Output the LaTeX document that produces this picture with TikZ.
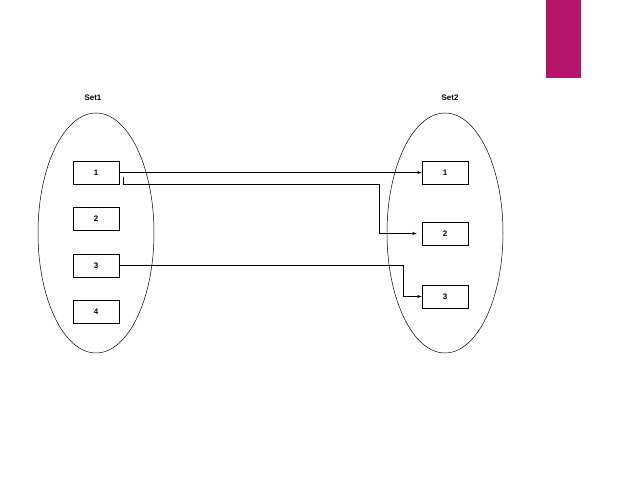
\documentclass[tikz,border=0pt]{standalone}
\usepackage{fontspec}
\setmainfont{Liberation Sans}
\begin{document}
\begin{tikzpicture}[x=1pt,y=-1pt,
 box/.style={draw,minimum width=46pt,minimum height=23pt,inner sep=0pt,font=\bfseries\fontsize{8}{9}\selectfont},
 lbl/.style={font=\bfseries\fontsize{8}{9}\selectfont},
 conn/.style={-latex,line width=0.5pt}]
\useasboundingbox (0,0) rectangle (638,478);
\fill[fill={rgb,255:red,181;green,22;blue,107}] (546,0) rectangle (581,78);
\draw[line width=0.5pt] (96,233) ellipse [x radius=58, y radius=120];
\draw[line width=0.5pt] (445,233) ellipse [x radius=58, y radius=120];
\node[lbl] (s1) at (93,98) {Set1};
\node[lbl] (s2) at (450,98) {Set2};
\node[box] (a1) at (96,172.5) {1};
\node[box] (a2) at (96,218.5) {2};
\node[box] (a3) at (96,265.5) {3};
\node[box] (a4) at (96,311.5) {4};
\node[box] (b1) at (445,172.5) {1};
\node[box] (b2) at (445,233.5) {2};
\node[box] (b3) at (445,296.5) {3};
\coordinate (c1) at (123,177);
\draw[conn] (a1.east) -- (b1.west);
\draw[conn] (c1) |- (379,184) |- ([xshift=-5pt]b2.west);
\draw[conn] (a3.east) -- (403,265.5) |- (b3.west);
\end{tikzpicture}
\end{document}
